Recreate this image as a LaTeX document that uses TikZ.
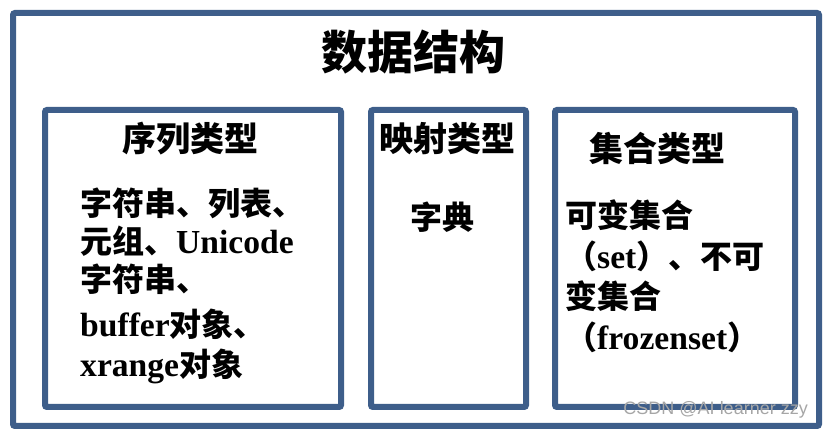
\documentclass[tikz,border=0pt]{standalone}
\usepackage{fontspec}
\setmainfont{Liberation Serif}[Scale=1.05]
\newfontfamily\cjk{Noto Sans CJK SC}
\newfontfamily\wmfont{Liberation Sans}
\newcommand{\zh}[1]{{\cjk\bfseries #1}}
\usetikzlibrary{positioning}
\definecolor{boxblue}{HTML}{3E5E8A}
\tikzstyle{outerbox} = [rectangle, draw=boxblue, line width=6pt, rounded corners=2pt, anchor=north west, inner sep=0pt]
\tikzstyle{typebox} = [rectangle, draw=boxblue, line width=6pt, rounded corners=2pt, anchor=north west, inner sep=0pt, minimum height=297pt]
\tikzstyle{heading} = [inner sep=0pt, font=\cjk\bfseries\fontsize{34}{40}\selectfont]
\tikzstyle{content} = [inner sep=0pt, anchor=north west, align=left, font=\bfseries\fontsize{32}{38}\selectfont]

\begin{document}
\begin{tikzpicture}[x=1pt, y=-1pt]

    \useasboundingbox (0,0) rectangle (823,430);

    % boxes
    \node (struct) [outerbox, minimum width=806pt, minimum height=413pt] at (10,10) {};
    \node (seqbox) [typebox, minimum width=296pt] at (42,107) {};
    \node (mapbox) [typebox, minimum width=155pt] at (368,107) {};
    \node (setbox) [typebox, minimum width=240pt] at (552,107) {};

    \node (title) [heading, font=\cjk\bfseries\fontsize{46}{52}\selectfont] at (413,52) {数据结构};
    \node (seqtitle) [heading] at (190,139) {序列类型};
    \node (maptitle) [heading] at (447,139) {映射类型};
    \node (settitle) [heading] at (657,148) {集合类型};

    \node (seqtext) [content] at (80,188) {%
        \zh{字符串、列表、}\\
        \zh{元组、}Unicode\\
        \zh{字符串、}\\[7pt]
        buffer\zh{对象、}\\[2pt]
        xrange\zh{对象}};

    \node (maptext) [heading, font=\cjk\bfseries\fontsize{32}{38}\selectfont] at (442,217) {字典};

    \node (settext) [content, font=\bfseries\fontsize{32}{40.5}\selectfont] at (565,200) {%
        \zh{可变集合}\\
        \zh{（}set\zh{）、不可}\\
        \zh{变集合}\\
        \zh{（}frozenset\zh{）}};

    % watermark
    \node (mark) [anchor=east, inner sep=0pt, text=black!35, font=\wmfont\fontsize{18}{20}\selectfont] at (808,410) {CSDN @AI learner zzy};

\end{tikzpicture}
\end{document}
